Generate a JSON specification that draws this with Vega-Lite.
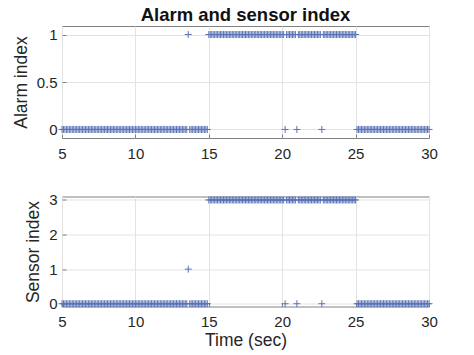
{
  "$schema": "https://vega.github.io/schema/vega-lite/v6.json",
  "padding": {"left": 11, "top": 5, "right": 5, "bottom": 5},
  "background": "white",
  "config": {
    "font": "Liberation Sans",
    "view": {"stroke": "#808080", "strokeWidth": 1},
    "axis": {
      "labelFont": "Liberation Sans", "titleFont": "Liberation Sans",
      "labelFontSize": 15, "titleFontSize": 17.5, "titleFontWeight": "normal",
      "labelColor": "#262626", "titleColor": "#262626",
      "gridColor": "#e3e3e3", "gridWidth": 1,
      "domain": false, "tickColor": "#808080", "tickSize": -4, "labelPadding": 12,
      "labelOverlap": false, "labelFlush": false, "format": "~g"
    },
    "title": {"font": "Liberation Sans", "fontSize": 18.5, "fontWeight": "bold", "color": "#111111", "offset": 2}
  },
  "datasets": {
    "d": [
      {"t":5.0,"a":0,"s":0},{"t":5.1,"a":0,"s":0},{"t":5.2,"a":0,"s":0},{"t":5.3,"a":0,"s":0},{"t":5.4,"a":0,"s":0},{"t":5.5,"a":0,"s":0},{"t":5.6,"a":0,"s":0},{"t":5.7,"a":0,"s":0},{"t":5.8,"a":0,"s":0},{"t":5.9,"a":0,"s":0},
      {"t":6.0,"a":0,"s":0},{"t":6.1,"a":0,"s":0},{"t":6.2,"a":0,"s":0},{"t":6.3,"a":0,"s":0},{"t":6.4,"a":0,"s":0},{"t":6.5,"a":0,"s":0},{"t":6.6,"a":0,"s":0},{"t":6.7,"a":0,"s":0},{"t":6.8,"a":0,"s":0},{"t":6.9,"a":0,"s":0},
      {"t":7.0,"a":0,"s":0},{"t":7.1,"a":0,"s":0},{"t":7.2,"a":0,"s":0},{"t":7.3,"a":0,"s":0},{"t":7.4,"a":0,"s":0},{"t":7.5,"a":0,"s":0},{"t":7.6,"a":0,"s":0},{"t":7.7,"a":0,"s":0},{"t":7.8,"a":0,"s":0},{"t":7.9,"a":0,"s":0},
      {"t":8.0,"a":0,"s":0},{"t":8.1,"a":0,"s":0},{"t":8.2,"a":0,"s":0},{"t":8.3,"a":0,"s":0},{"t":8.4,"a":0,"s":0},{"t":8.5,"a":0,"s":0},{"t":8.6,"a":0,"s":0},{"t":8.7,"a":0,"s":0},{"t":8.8,"a":0,"s":0},{"t":8.9,"a":0,"s":0},
      {"t":9.0,"a":0,"s":0},{"t":9.1,"a":0,"s":0},{"t":9.2,"a":0,"s":0},{"t":9.3,"a":0,"s":0},{"t":9.4,"a":0,"s":0},{"t":9.5,"a":0,"s":0},{"t":9.6,"a":0,"s":0},{"t":9.7,"a":0,"s":0},{"t":9.8,"a":0,"s":0},{"t":9.9,"a":0,"s":0},
      {"t":10.0,"a":0,"s":0},{"t":10.1,"a":0,"s":0},{"t":10.2,"a":0,"s":0},{"t":10.3,"a":0,"s":0},{"t":10.4,"a":0,"s":0},{"t":10.5,"a":0,"s":0},{"t":10.6,"a":0,"s":0},{"t":10.7,"a":0,"s":0},{"t":10.8,"a":0,"s":0},{"t":10.9,"a":0,"s":0},
      {"t":11.0,"a":0,"s":0},{"t":11.1,"a":0,"s":0},{"t":11.2,"a":0,"s":0},{"t":11.3,"a":0,"s":0},{"t":11.4,"a":0,"s":0},{"t":11.5,"a":0,"s":0},{"t":11.6,"a":0,"s":0},{"t":11.7,"a":0,"s":0},{"t":11.8,"a":0,"s":0},{"t":11.9,"a":0,"s":0},
      {"t":12.0,"a":0,"s":0},{"t":12.1,"a":0,"s":0},{"t":12.2,"a":0,"s":0},{"t":12.3,"a":0,"s":0},{"t":12.4,"a":0,"s":0},{"t":12.5,"a":0,"s":0},{"t":12.6,"a":0,"s":0},{"t":12.7,"a":0,"s":0},{"t":12.8,"a":0,"s":0},{"t":12.9,"a":0,"s":0},
      {"t":13.0,"a":0,"s":0},{"t":13.1,"a":0,"s":0},{"t":13.2,"a":0,"s":0},{"t":13.3,"a":0,"s":0},{"t":13.4,"a":0,"s":0},{"t":13.5,"a":0,"s":0},{"t":13.6,"a":1,"s":1},{"t":13.7,"a":0,"s":0},{"t":13.8,"a":0,"s":0},{"t":13.9,"a":0,"s":0},
      {"t":14.0,"a":0,"s":0},{"t":14.1,"a":0,"s":0},{"t":14.2,"a":0,"s":0},{"t":14.3,"a":0,"s":0},{"t":14.4,"a":0,"s":0},{"t":14.5,"a":0,"s":0},{"t":14.6,"a":0,"s":0},{"t":14.7,"a":0,"s":0},{"t":14.8,"a":0,"s":0},{"t":14.9,"a":0,"s":0},
      {"t":15.0,"a":1,"s":3},{"t":15.1,"a":1,"s":3},{"t":15.2,"a":1,"s":3},{"t":15.3,"a":1,"s":3},{"t":15.4,"a":1,"s":3},{"t":15.5,"a":1,"s":3},{"t":15.6,"a":1,"s":3},{"t":15.7,"a":1,"s":3},{"t":15.8,"a":1,"s":3},{"t":15.9,"a":1,"s":3},
      {"t":16.0,"a":1,"s":3},{"t":16.1,"a":1,"s":3},{"t":16.2,"a":1,"s":3},{"t":16.3,"a":1,"s":3},{"t":16.4,"a":1,"s":3},{"t":16.5,"a":1,"s":3},{"t":16.6,"a":1,"s":3},{"t":16.7,"a":1,"s":3},{"t":16.8,"a":1,"s":3},{"t":16.9,"a":1,"s":3},
      {"t":17.0,"a":1,"s":3},{"t":17.1,"a":1,"s":3},{"t":17.2,"a":1,"s":3},{"t":17.3,"a":1,"s":3},{"t":17.4,"a":1,"s":3},{"t":17.5,"a":1,"s":3},{"t":17.6,"a":1,"s":3},{"t":17.7,"a":1,"s":3},{"t":17.8,"a":1,"s":3},{"t":17.9,"a":1,"s":3},
      {"t":18.0,"a":1,"s":3},{"t":18.1,"a":1,"s":3},{"t":18.2,"a":1,"s":3},{"t":18.3,"a":1,"s":3},{"t":18.4,"a":1,"s":3},{"t":18.5,"a":1,"s":3},{"t":18.6,"a":1,"s":3},{"t":18.7,"a":1,"s":3},{"t":18.8,"a":1,"s":3},{"t":18.9,"a":1,"s":3},
      {"t":19.0,"a":1,"s":3},{"t":19.1,"a":1,"s":3},{"t":19.2,"a":1,"s":3},{"t":19.3,"a":1,"s":3},{"t":19.4,"a":1,"s":3},{"t":19.5,"a":1,"s":3},{"t":19.6,"a":1,"s":3},{"t":19.7,"a":1,"s":3},{"t":19.8,"a":1,"s":3},{"t":19.9,"a":1,"s":3},
      {"t":20.0,"a":1,"s":3},{"t":20.1,"a":1,"s":3},{"t":20.2,"a":0,"s":0},{"t":20.3,"a":1,"s":3},{"t":20.4,"a":1,"s":3},{"t":20.5,"a":1,"s":3},{"t":20.6,"a":1,"s":3},{"t":20.7,"a":1,"s":3},{"t":20.8,"a":1,"s":3},{"t":20.9,"a":1,"s":3},
      {"t":21.0,"a":0,"s":0},{"t":21.1,"a":1,"s":3},{"t":21.2,"a":1,"s":3},{"t":21.3,"a":1,"s":3},{"t":21.4,"a":1,"s":3},{"t":21.5,"a":1,"s":3},{"t":21.6,"a":1,"s":3},{"t":21.7,"a":1,"s":3},{"t":21.8,"a":1,"s":3},{"t":21.9,"a":1,"s":3},
      {"t":22.0,"a":1,"s":3},{"t":22.1,"a":1,"s":3},{"t":22.2,"a":1,"s":3},{"t":22.3,"a":1,"s":3},{"t":22.4,"a":1,"s":3},{"t":22.5,"a":1,"s":3},{"t":22.6,"a":1,"s":3},{"t":22.7,"a":0,"s":0},{"t":22.8,"a":1,"s":3},{"t":22.9,"a":1,"s":3},
      {"t":23.0,"a":1,"s":3},{"t":23.1,"a":1,"s":3},{"t":23.2,"a":1,"s":3},{"t":23.3,"a":1,"s":3},{"t":23.4,"a":1,"s":3},{"t":23.5,"a":1,"s":3},{"t":23.6,"a":1,"s":3},{"t":23.7,"a":1,"s":3},{"t":23.8,"a":1,"s":3},{"t":23.9,"a":1,"s":3},
      {"t":24.0,"a":1,"s":3},{"t":24.1,"a":1,"s":3},{"t":24.2,"a":1,"s":3},{"t":24.3,"a":1,"s":3},{"t":24.4,"a":1,"s":3},{"t":24.5,"a":1,"s":3},{"t":24.6,"a":1,"s":3},{"t":24.7,"a":1,"s":3},{"t":24.8,"a":1,"s":3},{"t":24.9,"a":1,"s":3},
      {"t":25.0,"a":1,"s":3},{"t":25.1,"a":0,"s":0},{"t":25.2,"a":0,"s":0},{"t":25.3,"a":0,"s":0},{"t":25.4,"a":0,"s":0},{"t":25.5,"a":0,"s":0},{"t":25.6,"a":0,"s":0},{"t":25.7,"a":0,"s":0},{"t":25.8,"a":0,"s":0},{"t":25.9,"a":0,"s":0},
      {"t":26.0,"a":0,"s":0},{"t":26.1,"a":0,"s":0},{"t":26.2,"a":0,"s":0},{"t":26.3,"a":0,"s":0},{"t":26.4,"a":0,"s":0},{"t":26.5,"a":0,"s":0},{"t":26.6,"a":0,"s":0},{"t":26.7,"a":0,"s":0},{"t":26.8,"a":0,"s":0},{"t":26.9,"a":0,"s":0},
      {"t":27.0,"a":0,"s":0},{"t":27.1,"a":0,"s":0},{"t":27.2,"a":0,"s":0},{"t":27.3,"a":0,"s":0},{"t":27.4,"a":0,"s":0},{"t":27.5,"a":0,"s":0},{"t":27.6,"a":0,"s":0},{"t":27.7,"a":0,"s":0},{"t":27.8,"a":0,"s":0},{"t":27.9,"a":0,"s":0},
      {"t":28.0,"a":0,"s":0},{"t":28.1,"a":0,"s":0},{"t":28.2,"a":0,"s":0},{"t":28.3,"a":0,"s":0},{"t":28.4,"a":0,"s":0},{"t":28.5,"a":0,"s":0},{"t":28.6,"a":0,"s":0},{"t":28.7,"a":0,"s":0},{"t":28.8,"a":0,"s":0},{"t":28.9,"a":0,"s":0},
      {"t":29.0,"a":0,"s":0},{"t":29.1,"a":0,"s":0},{"t":29.2,"a":0,"s":0},{"t":29.3,"a":0,"s":0},{"t":29.4,"a":0,"s":0},{"t":29.5,"a":0,"s":0},{"t":29.6,"a":0,"s":0},{"t":29.7,"a":0,"s":0},{"t":29.8,"a":0,"s":0},{"t":29.9,"a":0,"s":0},
      {"t":30.0,"a":0,"s":0}
    ]
  },
  "spacing": 29.5,
  "vconcat": [
    {
      "title": {"text": "Alarm and sensor index"},
      "width": 367, "height": 112,
      "data": {"name": "d"},
      "mark": {"type": "point", "shape": "M-1,0L1,0M0,-1L0,1", "filled": false, "color": "#5a73b8", "strokeWidth": 1, "size": 49, "opacity": 1},
      "encoding": {
        "x": {"field": "t", "type": "quantitative", "scale": {"domain": [5, 30], "nice": false, "zero": false}, "axis": {"values": [5, 10, 15, 20, 25, 30], "title": null}},
        "y": {"field": "a", "type": "quantitative", "scale": {"domain": [-0.09, 1.09], "nice": false, "zero": false}, "axis": {"values": [0, 0.5, 1], "title": "Alarm index", "titlePadding": 6, "labelPadding": 9}}
      }
    },
    {
      "width": 367, "height": 110,
      "data": {"name": "d"},
      "mark": {"type": "point", "shape": "M-1,0L1,0M0,-1L0,1", "filled": false, "color": "#5a73b8", "strokeWidth": 1, "size": 49, "opacity": 1},
      "encoding": {
        "x": {"field": "t", "type": "quantitative", "scale": {"domain": [5, 30], "nice": false, "zero": false}, "axis": {"values": [5, 10, 15, 20, 25, 30], "title": "Time (sec)", "titlePadding": 2}},
        "y": {"field": "s", "type": "quantitative", "scale": {"domain": [-0.08, 3.1], "nice": false, "zero": false}, "axis": {"values": [0, 1, 2, 3], "title": "Sensor index", "titlePadding": 6, "labelPadding": 9}}
      }
    }
  ]
}
